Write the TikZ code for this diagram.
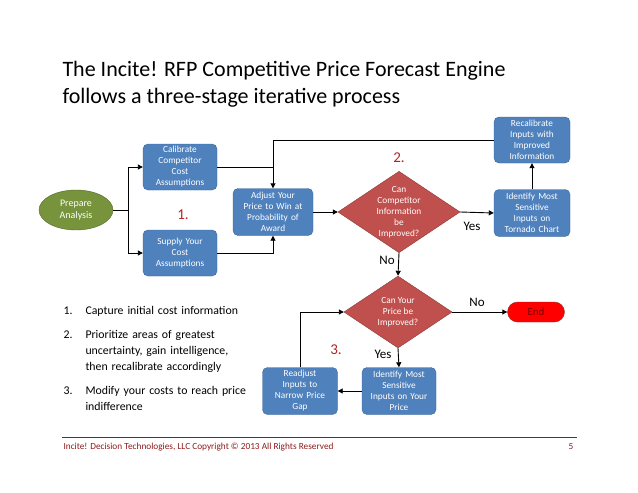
\documentclass[tikz,border=0pt]{standalone}
\usepackage{fontspec}
\setmainfont{Carlito}
\usetikzlibrary{shapes.geometric,arrows.meta}
\definecolor{bx}{HTML}{4F81BD}
\definecolor{bxd}{HTML}{3A6496}
\definecolor{dm}{HTML}{C0504D}
\definecolor{dmd}{HTML}{8C3836}
\definecolor{gr}{HTML}{77933C}
\definecolor{grd}{HTML}{556B2B}
\definecolor{rd}{HTML}{B22222}
\tikzset{
 box/.style={draw=bxd,fill=bx,rounded corners=5pt,minimum width=74pt,minimum height=46pt,text width=72pt,align=center,text=white,font=\fontsize{9.3}{11}\selectfont,inner sep=1pt},
 dia/.style={diamond,draw=dmd,fill=dm,aspect=1.5,text=white,align=center,font=\fontsize{9.3}{11}\selectfont,inner sep=0pt},
 ar/.style={-{Triangle[length=5pt,width=5pt]},line width=0.9pt},
 ln/.style={line width=0.9pt},
 lab/.style={font=\fontsize{13}{15}\selectfont},
 stg/.style={text=rd,font=\fontsize{15}{17}\selectfont}
}
\begin{document}
\begin{tikzpicture}[x=1pt,y=-1pt]
\useasboundingbox (0,0) rectangle (638,493);
\node[anchor=west,align=left,font=\fontsize{22}{27}\selectfont] (t) at (59,84) {The Incite! RFP Competitive Price Forecast Engine\\follows a three-stage iterative process};
\node[ellipse,draw=grd,fill=gr,minimum width=74pt,minimum height=40pt,text=white,align=center,font=\fontsize{10}{12}\selectfont,inner sep=0pt] (pa) at (76,210) {Prepare\\Analysis};
\node[box] (cal) at (180,167) {Calibrate\\Competitor\\Cost\\Assumptions};
\node[box] (sup) at (180,253) {Supply Your\\Cost\\Assumptions};
\node[box,minimum width=80pt,minimum height=47pt,text width=78pt] (adj) at (273,212) {Adjust Your\\Price to Win at\\Probability of\\Award};
\node[stg] (s1) at (183,215) {1.};
\node[dia,minimum width=118pt,minimum height=80pt] (d1) at (399,212) {Can\\Competitor\\Information\\be\\Improved?};
\node[stg] (s2) at (399,158) {2.};
\node[box,minimum width=76pt,minimum height=47pt] (idt) at (532,213) {Identify Most\\Sensitive\\Inputs on\\Tornado Chart};
\node[box,minimum width=76pt,minimum height=46pt] (rec) at (532,140) {Recalibrate\\Inputs with\\Improved\\Information};
\node[dia,minimum width=108pt,minimum height=72pt] (d2) at (398,312) {Can Your\\Price be\\Improved?};
\node[draw=dmd,fill=red,rounded corners=10pt,minimum width=57pt,minimum height=20pt,text=red!45!black,font=\fontsize{11}{13}\selectfont,inner sep=0pt] (end) at (536,312) {End};
\node[box,minimum width=72pt,minimum height=47pt] (id2) at (399,391) {Identify Most\\Sensitive\\Inputs on Your\\Price};
\node[box,minimum width=75pt,minimum height=47pt] (rea) at (300,391) {Readjust\\Inputs to\\Narrow Price\\Gap};
\node[stg] (s3) at (336,350) {3.};
% connectors
\coordinate (br) at (128,210);
\draw[ln] (pa.east) -- (br);
\draw[ar] (br) |- (cal.west);
\draw[ar] (br) |- (sup.west);
\draw[ln] (cal.east) -- (adj.north |- cal.east);
\draw[ar] (rec.west) -| (adj.north);
\draw[ar] (sup.east) -| (adj.south);
\draw[ar] (adj.east) -- (d1.west);
\draw[ar] (d1.east) -- (idt.west);
\draw[ar] (idt.north) -- (rec.south);
\draw[ar] (d1.south) -- (d2.north);
\draw[ar] (d2.east) -- (end.west);
\draw[ar] (d2.south) -- (id2.north);
\draw[ar] (id2.west) -- (rea.east);
\draw[ar] (rea.north) |- (d2.west);
\node[lab] (y1) at (472,226) {Yes};
\node[lab] (n1) at (387,260) {No};
\node[lab] (n2) at (477,302) {No};
\node[lab] (y2) at (383,354) {Yes};
% list
\node[anchor=north west,align=left,font=\fontsize{11.8}{16}\selectfont,text width=220pt] (lst) at (60,303) {%
\makebox[22pt][l]{1.}Capture initial cost information\\[8pt]
\makebox[22pt][l]{2.}Prioritize areas of greatest\\\hspace*{22pt}uncertainty, gain intelligence,\\\hspace*{22pt}then recalibrate accordingly\\[8pt]
\makebox[22pt][l]{3.}Modify your costs to reach price\\\hspace*{22pt}indifference};
% footer
\coordinate (fl) at (62,437); \coordinate (fr) at (577,437);
\draw[rd!80!black,line width=0.8pt] (fl) -- (fr);
\node[anchor=west,text=rd!80!black,font=\fontsize{9.3}{11}\selectfont] (ft) at (60,447) {Incite! Decision Technologies, LLC Copyright © 2013 All Rights Reserved};
\node[text=rd!80!black,font=\fontsize{9.3}{11}\selectfont] (pg) at (571,447) {5};
\end{tikzpicture}
\end{document}
